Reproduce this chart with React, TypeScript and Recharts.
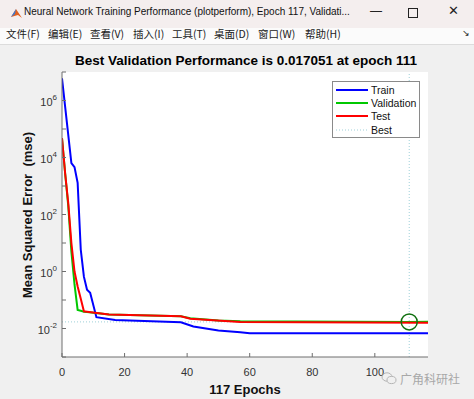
import { LineChart, Line, XAxis, YAxis, CartesianGrid, ReferenceLine, ReferenceDot, Legend } from 'recharts';

// training record (mse, log scale)
const trainEpochs = [0, 3, 4, 5, 6, 7, 8, 9, 11, 17, 38, 42, 50, 57, 60, 117];
const trainMse = [6.0e6, 6.3e3, 4.6e3, 1.3e3, 5.8, 0.66, 0.23, 0.18, 0.025, 0.02, 0.0166, 0.0117, 0.0085, 0.0074, 0.0068, 0.0068];

const valEpochs = [0, 1, 2, 3, 4, 5, 6, 7, 8, 15, 38, 41, 50, 57, 111, 117];
const valMse = [4.8e4, 2.8e3, 200, 5.0, 0.35, 0.045, 0.042, 0.039, 0.038, 0.031, 0.027, 0.023, 0.019, 0.018, 0.017051, 0.0171];

const testEpochs = [0, 1, 2, 3, 4, 5, 6, 7, 8, 15, 38, 41, 57, 117];
const testMse = [4.8e4, 2.8e3, 250, 10, 1.0, 0.3, 0.11, 0.04, 0.039, 0.031, 0.027, 0.022, 0.017, 0.0158];

const bestEpoch = 111;
const bestPerf = 0.017051;

const xTicks = [0, 20, 40, 60, 80, 100];
const yTicks = [1e-3, 1e-2, 1e-1, 1, 10, 1e2, 1e3, 1e4, 1e5, 1e6, 1e7];
const yLabelled = [-2, 0, 2, 4, 6];

const menuItems = ['文件(F)', '编辑(E)', '查看(V)', '插入(I)', '工具(T)', '桌面(D)', '窗口(W)', '帮助(H)'];
const menuX = [6, 48, 90, 133, 172, 214, 258, 305];

const toRows = (ep: number[], v: number[]) => ep.map((e, i) => ({ epoch: e, mse: v[i] }));
const trainData = toRows(trainEpochs, trainMse);
const valData = toRows(valEpochs, valMse);
const testData = toRows(testEpochs, testMse);

const FONT = '"Liberation Sans", Arial, sans-serif';
const AXIS = '#6e6e6e';

const legendItems = [
  { name: 'Train', color: '#0000ff', dash: undefined },
  { name: 'Validation', color: '#00c800', dash: undefined },
  { name: 'Test', color: '#ff0000', dash: undefined },
  { name: 'Best', color: '#9fd0d8', dash: '1 2' },
];

function XTick({ x, y, payload }: any) {
  return (
    <g>
      <line x1={x} y1={y} x2={x} y2={y - 4} stroke={AXIS} />
      <text x={x} y={y + 19} textAnchor="middle" fontSize={11} fill="#333" fontFamily={FONT}>
        {payload.value}
      </text>
    </g>
  );
}

function YTick({ x, y, payload }: any) {
  const exp = Math.round(Math.log10(payload.value));
  return (
    <g>
      <line x1={x} y1={y} x2={x + 4} y2={y} stroke={AXIS} />
      {yLabelled.includes(exp) && (
        <text x={x - 5} y={y + 5} textAnchor="end" fontSize={11} fill="#333" fontFamily={FONT}>
          10<tspan dy={-6} fontSize={8}>{exp}</tspan>
        </text>
      )}
    </g>
  );
}

function LegendBox() {
  return (
    <div style={{ background: '#fff', border: '1px solid #8a8a8a', padding: '1px 0 1px 2px', width: 84 }}>
      {legendItems.map(it => (
        <div key={it.name} style={{ display: 'flex', alignItems: 'center', height: 13.3 }}>
          <svg width={34} height={6}>
            <line x1={1} y1={3} x2={33} y2={3} stroke={it.color} strokeWidth={it.dash ? 1 : 2} strokeDasharray={it.dash} />
          </svg>
          <span style={{ fontSize: 10.5, color: '#111', fontFamily: FONT, marginLeft: 2 }}>{it.name}</span>
        </div>
      ))}
    </div>
  );
}

export default function App() {
  return (
    <div style={{ position: 'absolute', left: 0, top: 0, width: 474, height: 399, background: '#f0f0f0', overflow: 'hidden', fontFamily: FONT }}>
      {/* window chrome */}
      <div style={{ position: 'absolute', left: 0, top: 0, width: 474, height: 28, background: '#f4eeee' }}>
        <svg style={{ position: 'absolute', left: 10, top: 7 }} width={13} height={13}>
          <polygon points="1,10 6,2 12,11 8,8" fill="#e06020" />
          <polygon points="1,10 6,2 5,7" fill="#3a7bd5" />
        </svg>
        <span style={{ position: 'absolute', left: 24, top: 6, fontSize: 10, color: '#111', whiteSpace: 'nowrap' }}>
          Neural Network Training Performance (plotperform), Epoch 117, Validati...
        </span>
        <span style={{ position: 'absolute', left: 370, top: 4, fontSize: 12, color: '#222' }}>—</span>
        <span style={{ position: 'absolute', left: 408, top: 8, width: 8, height: 8, border: '1px solid #222' }} />
        <span style={{ position: 'absolute', left: 448, top: 3, fontSize: 13, color: '#222' }}>✕</span>
      </div>
      <div style={{ position: 'absolute', left: 0, top: 28, width: 474, height: 16, background: '#fbfbfb', borderBottom: '1px solid #dcdcdc' }}>
        {menuItems.map((m, i) => (
          <span key={m} style={{ position: 'absolute', left: menuX[i], top: -2, fontSize: 10.5, color: '#222', fontFamily: '"Noto Sans CJK SC", sans-serif', whiteSpace: 'nowrap' }}>
            {m}
          </span>
        ))}
        <span style={{ position: 'absolute', left: 462, top: 0, fontSize: 9, color: '#222' }}>↘</span>
      </div>

      <div style={{ position: 'absolute', left: 0, top: 0 }}>
        <LineChart width={474} height={399} margin={{ top: 72, right: 46, bottom: 12, left: 0 }}>
          <CartesianGrid horizontal={false} vertical={false} fill="#ffffff" />
          <XAxis
            dataKey="epoch"
            type="number"
            domain={[0, 117]}
            ticks={xTicks}
            interval={0}
            height={30}
            tickSize={0}
            tickMargin={0}
            tick={<XTick />}
            axisLine={{ stroke: AXIS }}
            tickLine={false}
            allowDataOverflow
          />
          <YAxis
            dataKey="mse"
            scale="log"
            domain={[1e-3, 1e7]}
            ticks={yTicks}
            interval={0}
            width={62}
            tickSize={0}
            tickMargin={0}
            tick={<YTick />}
            axisLine={{ stroke: AXIS }}
            tickLine={false}
            allowDataOverflow
          />
          <ReferenceLine x={bestEpoch} stroke="#9fd0d8" strokeDasharray="1 2" />
          <ReferenceLine
            segment={[{ x: 0, y: bestPerf }, { x: bestEpoch, y: bestPerf }]}
            stroke="#9fd0d8"
            strokeDasharray="1 2"
          />
          <Line data={trainData} dataKey="mse" name="Train" stroke="#0000ff" strokeWidth={2} dot={false} isAnimationActive={false} />
          <Line data={valData} dataKey="mse" name="Validation" stroke="#00c800" strokeWidth={2} dot={false} isAnimationActive={false} />
          <Line data={testData} dataKey="mse" name="Test" stroke="#ff0000" strokeWidth={2} dot={false} isAnimationActive={false} />
          <ReferenceDot x={bestEpoch} y={bestPerf} r={8} fill="none" stroke="#107010" strokeWidth={1.5} />
          <Legend
            layout="vertical"
            align="center"
            verticalAlign="middle"
            content={<LegendBox />}
            wrapperStyle={{ position: 'absolute', left: 332, top: 81, width: 86 }}
          />
        </LineChart>
      </div>

      <div style={{ position: 'absolute', left: 0, width: 474, top: 53, textAlign: 'center', paddingLeft: 18, boxSizing: 'border-box', fontSize: 13.5, fontWeight: 700, color: '#000' }}>
        Best Validation Performance is 0.017051 at epoch 111
      </div>
      <div style={{ position: 'absolute', left: 62, width: 366, top: 382, textAlign: 'center', fontSize: 13, fontWeight: 700, color: '#111' }}>
        117 Epochs
      </div>
      <div style={{ position: 'absolute', left: 27, top: 215, transform: 'translate(-50%, -50%) rotate(-90deg)', whiteSpace: 'pre', fontSize: 13, fontWeight: 700, color: '#111' }}>
        Mean Squared Error  (mse)
      </div>

      {/* watermark */}
      <svg style={{ position: 'absolute', left: 381, top: 371 }} width={16} height={14}>
        <ellipse cx={6} cy={6} rx={5} ry={4.2} fill="none" stroke="#b5b5b5" />
        <ellipse cx={10.5} cy={9} rx={4.5} ry={3.6} fill="#f0f0f0" stroke="#b5b5b5" />
      </svg>
      <span style={{ position: 'absolute', left: 400, top: 370, fontSize: 12, color: '#a8a8a8', fontFamily: '"Noto Sans CJK SC", sans-serif' }}>广角科研社</span>
    </div>
  );
}
